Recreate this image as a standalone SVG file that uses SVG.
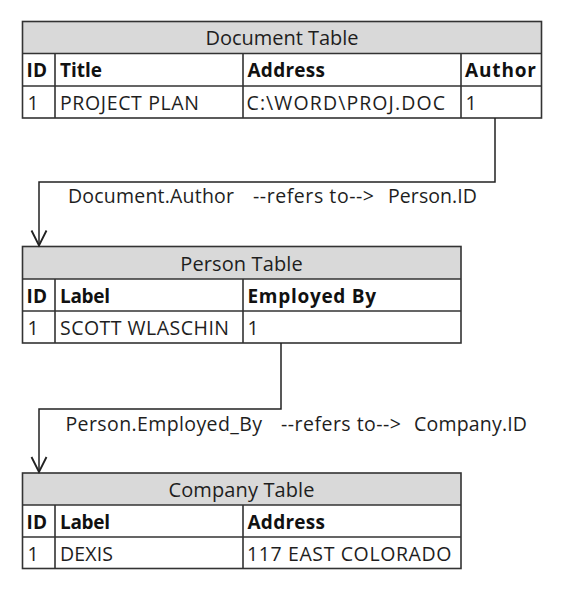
<svg xmlns="http://www.w3.org/2000/svg" width="577" height="589" viewBox="0 0 577 589">
<defs>
<style>
.t{font-family:"Open Sans","Liberation Sans",sans-serif;font-size:19.5px;fill:#1e1e1e}
.h{font-family:"Open Sans","Liberation Sans",sans-serif;font-size:20px;fill:#1e1e1e;text-anchor:middle}
.b{font-family:"Open Sans","Liberation Sans",sans-serif;font-size:19px;font-weight:bold;fill:#111}
.grid{fill:none;stroke:#333;stroke-width:1.6}
.hdr{fill:#d9d9d9;stroke:none}
.conn{fill:none;stroke:#222;stroke-width:1.5}
</style>
<marker id="arr" markerUnits="userSpaceOnUse" markerWidth="20" markerHeight="20" viewBox="-14 -8 16 16" refX="0" refY="0" orient="auto">
<path d="M-12,-6 L0,0 L-12,6" fill="none" stroke="#222" stroke-width="1.5"/>
</marker>
</defs>
<rect width="577" height="589" fill="#fff"/>

<g id="document-table">
<rect class="hdr" x="22.5" y="21.5" width="519" height="32"/>
<rect class="grid" x="22.5" y="21.5" width="519" height="96.5"/>
<path class="grid" d="M22.5 53.5H541.5M22.5 86H541.5M55 53.5V118M243 53.5V118M461 53.5V118"/>
<text class="h" x="282" y="45" textLength="153">Document Table</text>
<text class="b" x="26.5" y="77" textLength="20.5">ID</text>
<text class="b" x="60" y="77" textLength="42">Title</text>
<text class="b" x="247.5" y="77" textLength="77.5">Address</text>
<text class="b" x="465" y="77" textLength="71">Author</text>
<text class="t" x="27.5" y="110">1</text>
<text class="t" x="60" y="110" textLength="139">PROJECT PLAN</text>
<text class="t" x="246.5" y="110" textLength="198.5">C:\WORD\PROJ.DOC</text>
<text class="t" x="465.5" y="110">1</text>
</g>

<g id="person-table">
<rect class="hdr" x="22.5" y="246.5" width="438.5" height="32.5"/>
<rect class="grid" x="22.5" y="246.5" width="438.5" height="96.5"/>
<path class="grid" d="M22.5 279H461M22.5 311H461M55 279V343M243 279V343"/>
<text class="h" x="241.5" y="271" textLength="122.5">Person Table</text>
<text class="b" x="26.5" y="303" textLength="20.5">ID</text>
<text class="b" x="60" y="303" textLength="50">Label</text>
<text class="b" x="247.5" y="303" textLength="128.5">Employed By</text>
<text class="t" x="27.5" y="335">1</text>
<text class="t" x="60" y="335" textLength="169">SCOTT WLASCHIN</text>
<text class="t" x="247.5" y="335">1</text>
</g>

<g id="company-table">
<rect class="hdr" x="22.5" y="473" width="438.5" height="32"/>
<rect class="grid" x="22.5" y="473" width="438.5" height="95.5"/>
<path class="grid" d="M22.5 505H461M22.5 537H461M55 505V568.5M243 505V568.5"/>
<text class="h" x="241.5" y="497" textLength="146">Company Table</text>
<text class="b" x="26.5" y="529" textLength="20.5">ID</text>
<text class="b" x="60" y="529" textLength="50">Label</text>
<text class="b" x="247.5" y="529" textLength="77.5">Address</text>
<text class="t" x="27.5" y="561">1</text>
<text class="t" x="60" y="561" textLength="53">DEXIS</text>
<text class="t" x="247" y="561" textLength="204.5">117 EAST COLORADO</text>
</g>

<g id="connectors">
<path class="conn" d="M495 118V182H39V245.5" marker-end="url(#arr)"/>
<path class="conn" d="M281 343V409H39V472" marker-end="url(#arr)"/>
<text class="t" y="203"><tspan x="68" textLength="166">Document.Author</tspan><tspan x="253" textLength="121">--refers to--&gt;</tspan><tspan x="388" textLength="89">Person.ID</tspan></text>
<text class="t" y="431"><tspan x="65.5" textLength="196.5">Person.Employed_By</tspan><tspan x="281" textLength="120">--refers to--&gt;</tspan><tspan x="414" textLength="113">Company.ID</tspan></text>
</g>
</svg>
